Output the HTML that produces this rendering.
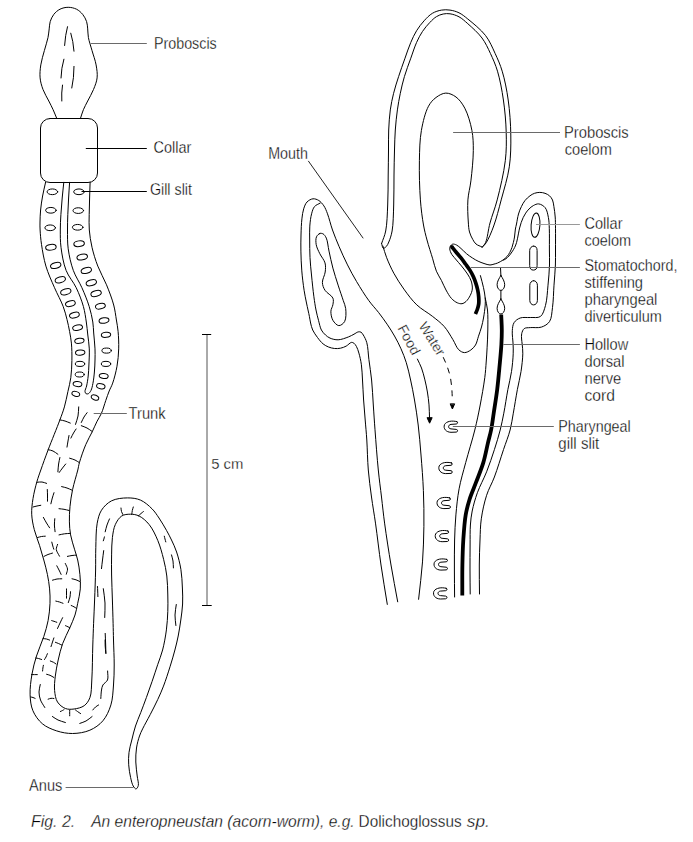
<!DOCTYPE html>
<html><head><meta charset="utf-8"><style>
html,body{margin:0;padding:0;background:#fff;}
svg{display:block;}
text{font-family:"Liberation Sans",sans-serif;fill:#000;stroke:#fff;stroke-width:0.3px;}
</style></head><body>
<svg width="693" height="842" viewBox="0 0 693 842">
<g fill="none" stroke="#000" stroke-width="1" stroke-linecap="round" stroke-linejoin="round">
<path d="M56.70,118.30C55.50,115.43 54.40,112.55 53.10,109.70C51.77,106.79 50.35,104.10 48.80,101.00C47.02,97.43 44.46,93.42 43.00,89.50C41.59,85.72 40.48,81.91 40.10,77.90C39.70,73.72 40.14,69.31 40.80,64.90C41.51,60.19 43.17,55.17 44.40,50.50C45.57,46.05 47.19,41.41 48.00,37.50C48.65,34.36 48.82,31.65 49.20,28.90C49.55,26.37 49.47,23.97 50.20,21.60C50.96,19.13 52.17,16.46 53.80,14.40C55.43,12.33 57.63,10.38 60.00,9.20C62.42,7.99 65.46,7.30 68.20,7.30C70.96,7.30 74.06,7.99 76.50,9.20C78.88,10.38 81.02,12.34 82.70,14.40C84.39,16.47 85.77,19.12 86.60,21.60C87.39,23.96 87.41,26.36 87.70,28.90C88.02,31.64 87.84,34.37 88.40,37.50C89.10,41.42 90.75,46.06 92.00,50.50C93.31,55.18 95.26,60.18 96.10,64.90C96.89,69.30 97.57,73.73 97.10,77.90C96.65,81.92 95.03,85.70 93.50,89.50C91.92,93.41 89.48,97.43 87.70,101.00C86.15,104.10 84.61,106.77 83.40,109.70C82.23,112.54 81.47,115.43 80.50,118.30"/>
<path d="M67.5,26.7Q65.3,35 64.6,45.5"/>
<path d="M70.8,33.2Q73.2,41 74,51.2"/>
<path d="M63.9,59.2Q61.3,68 61,78"/>
<path d="M74,66.4Q74,78 71.8,88"/>
<path d="M62.5,85.1Q61.3,93 61.8,101"/>
<rect x="40.5" y="118.5" width="57" height="64" rx="9.5"/>
<path d="M45.60,182.30C44.60,186.87 43.43,191.39 42.60,196.00C41.76,200.63 41.03,205.50 40.60,210.00C40.20,214.14 40.07,218.40 40.00,222.00C39.95,224.94 39.93,226.95 40.10,230.00C40.32,234.10 40.71,239.13 41.50,244.40C42.47,250.92 43.78,258.97 45.90,266.10C48.08,273.41 51.53,280.79 54.50,287.70C57.31,294.22 61.04,300.74 63.20,306.50C64.95,311.16 65.92,315.23 67.00,319.50C68.03,323.56 68.86,327.52 69.60,331.50C70.32,335.39 71.01,338.83 71.40,343.10C71.87,348.28 72.00,354.64 71.90,360.40C71.80,366.17 71.53,372.27 70.80,377.70C70.13,382.61 68.94,386.86 67.90,391.60C66.81,396.58 65.79,402.04 64.40,406.90C63.10,411.45 61.82,414.70 59.90,419.90C56.97,427.83 51.61,440.70 48.20,449.70C45.40,457.10 42.84,464.15 40.80,470.00C39.26,474.42 38.11,477.41 36.90,481.70C35.47,486.79 33.87,493.05 33.00,498.60C32.18,503.87 31.48,509.02 31.70,514.20C31.92,519.39 33.02,524.57 34.30,529.70C35.61,534.94 37.89,540.16 39.50,545.30C41.05,550.26 42.47,555.11 43.80,560.00C45.10,564.81 46.43,569.57 47.40,574.40C48.36,579.20 49.17,584.06 49.60,588.90C50.03,593.70 50.20,598.29 50.00,603.30C49.78,608.81 49.16,614.99 48.10,620.60C47.07,626.05 45.58,630.97 43.80,636.50C41.80,642.71 38.50,649.57 36.50,656.00C34.61,662.07 33.06,667.74 32.00,674.00C30.87,680.64 29.83,688.35 30.10,694.80C30.34,700.47 30.86,705.88 32.90,710.70C34.93,715.51 38.34,720.33 42.30,723.70C46.27,727.07 51.65,729.27 56.70,730.90C61.75,732.53 67.19,733.57 72.60,733.50C78.25,733.43 84.76,732.42 89.90,730.20C94.80,728.08 99.44,724.86 102.90,720.80C106.54,716.53 109.13,710.66 110.90,704.90C112.78,698.78 112.95,691.65 113.50,685.00C114.05,678.35 114.18,672.04 114.20,665.00C114.23,657.13 113.69,647.50 113.50,640.00C113.34,633.87 113.26,629.33 113.10,623.30C112.91,616.18 112.65,607.90 112.40,600.00C112.15,591.81 111.73,582.88 111.60,575.00C111.49,567.94 111.45,561.35 111.60,554.90C111.74,548.92 111.69,542.93 112.40,537.60C113.02,532.93 113.59,528.33 115.30,524.60C116.83,521.25 119.02,517.71 121.70,516.00C124.14,514.44 127.50,514.20 130.40,514.20C133.30,514.20 136.27,514.61 139.10,516.00C142.56,517.69 146.25,520.96 149.20,524.60C152.64,528.85 155.43,534.85 157.80,540.50C160.27,546.39 162.07,553.18 163.60,559.30C165.02,564.99 166.10,570.23 166.80,576.00C167.54,582.10 167.64,588.90 167.80,595.00C167.95,600.67 168.01,605.77 167.80,611.40C167.57,617.39 167.23,623.63 166.40,629.90C165.53,636.48 164.19,643.92 162.60,650.00C161.24,655.22 159.47,659.32 157.80,664.30C155.98,669.74 154.03,675.79 152.10,681.40C150.22,686.86 148.32,692.22 146.40,697.50C144.52,702.65 142.57,707.81 140.70,712.70C138.94,717.29 136.98,721.47 135.50,726.00C134.01,730.57 132.91,735.47 131.80,740.00C130.76,744.25 129.51,748.24 129.00,752.40C128.49,756.51 128.44,760.65 128.70,764.80C128.96,769.02 129.74,773.72 130.60,777.50C131.31,780.65 132.03,783.98 133.20,786.00C133.99,787.37 135.15,789.07 136.00,789.00C136.86,788.93 137.94,787.04 138.30,785.50C138.85,783.18 137.57,779.47 137.20,776.00C136.75,771.79 135.92,766.67 135.80,762.00C135.68,757.34 135.84,752.46 136.50,748.00C137.12,743.81 138.33,739.44 139.50,736.00C140.43,733.28 141.27,731.65 142.60,728.90C144.52,724.93 147.70,719.46 150.20,714.60C152.76,709.63 155.51,704.33 157.80,699.40C159.91,694.85 161.62,691.02 163.50,686.10C165.76,680.17 168.22,672.51 170.20,666.20C171.97,660.54 173.53,655.22 174.90,650.00C176.17,645.18 177.24,640.84 178.20,636.00C179.22,630.86 180.07,625.34 180.80,620.00C181.53,614.68 182.33,609.34 182.60,604.00C182.87,598.67 182.66,593.53 182.40,588.00C182.12,582.03 181.89,575.46 180.90,569.40C179.93,563.46 178.34,557.20 176.60,552.00C175.12,547.56 173.27,543.74 171.50,540.00C169.89,536.59 168.40,533.77 166.50,530.40C164.31,526.50 161.56,521.76 159.00,518.00C156.71,514.64 154.85,511.64 152.00,508.80C148.81,505.62 144.69,501.91 140.50,500.10C136.49,498.37 132.05,497.87 127.50,497.90C122.46,497.93 116.04,498.57 111.60,500.80C107.50,502.86 103.90,506.46 101.50,510.20C99.11,513.93 98.17,518.11 97.20,523.20C95.90,530.01 96.06,539.72 95.80,547.70C95.55,555.31 95.77,562.02 95.60,570.00C95.40,579.26 94.96,590.63 94.60,600.00C94.29,608.26 93.90,615.67 93.60,623.30C93.31,630.66 93.06,636.91 92.80,645.00C92.46,655.28 92.46,670.31 91.80,680.00C91.33,686.91 91.64,693.13 89.90,697.70C88.61,701.10 86.76,703.82 84.20,705.70C81.54,707.65 77.38,708.57 74.10,709.00C71.13,709.39 68.07,709.55 65.40,708.50C62.50,707.37 59.30,704.84 57.50,702.00C55.56,698.94 55.01,694.58 54.60,690.50C54.15,686.00 54.74,681.02 55.30,676.10C55.90,670.86 57.00,665.36 58.20,660.00C59.42,654.56 60.69,649.02 62.60,643.70C64.54,638.29 67.64,632.83 69.80,627.80C71.72,623.32 73.66,619.22 75.00,615.00C76.25,611.06 76.85,607.41 77.70,603.30C78.63,598.76 79.93,593.73 80.30,588.90C80.66,584.09 80.33,579.21 79.90,574.40C79.47,569.58 78.69,564.42 77.70,560.00C76.83,556.11 75.60,553.06 74.50,549.20C73.24,544.77 71.45,539.59 70.60,534.90C69.80,530.50 69.52,526.43 69.40,521.90C69.27,516.96 69.49,511.66 70.00,506.40C70.53,500.87 71.38,495.30 72.60,489.50C73.92,483.20 76.60,474.94 77.80,470.00C78.53,466.99 78.56,465.65 79.40,462.70C80.75,457.96 83.47,449.98 85.80,444.50C87.82,439.76 90.33,435.68 92.30,431.60C94.06,427.96 95.49,424.39 97.10,421.20C98.52,418.39 100.08,416.40 101.40,413.40C103.04,409.68 104.41,404.38 105.80,400.40C106.99,397.01 108.00,393.98 109.20,391.00C110.31,388.23 111.60,386.28 112.70,383.10C114.26,378.58 116.00,371.90 117.00,366.20C118.00,360.50 118.52,354.68 118.70,348.90C118.88,343.11 118.57,336.69 118.10,331.50C117.71,327.26 117.07,324.08 116.40,320.00C115.63,315.33 115.11,310.31 113.70,305.00C112.02,298.70 109.18,291.34 106.50,284.80C103.87,278.38 100.23,272.43 97.80,266.10C95.42,259.92 93.43,253.49 92.00,247.30C90.65,241.46 89.75,235.62 89.30,230.00C88.87,224.73 89.15,219.83 89.20,214.60C89.25,209.17 89.45,203.46 89.60,198.00C89.75,192.69 89.93,187.53 90.10,182.30"/>
<path d="M63.80,182.30C63.27,187.53 62.68,192.69 62.20,198.00C61.71,203.45 61.22,209.17 60.90,214.60C60.59,219.83 60.30,224.72 60.30,230.00C60.30,235.60 60.20,241.15 61.00,247.30C61.93,254.48 63.38,263.45 66.10,270.40C68.60,276.80 73.32,281.69 76.20,287.70C79.09,293.72 81.69,300.46 83.40,306.50C84.91,311.84 85.55,317.05 86.30,322.00C86.98,326.51 87.31,330.59 87.80,335.00C88.31,339.55 89.10,344.09 89.30,348.90C89.51,354.06 89.11,360.14 88.90,365.00C88.72,369.02 88.60,372.43 88.20,376.00C87.82,379.42 87.23,383.18 86.60,386.00C86.12,388.12 84.86,390.08 85.00,391.50C85.09,392.45 85.59,393.46 86.20,393.80C86.78,394.12 87.79,393.98 88.50,393.60C89.44,393.09 90.32,391.75 91.00,390.40C91.90,388.60 92.37,386.11 92.90,383.50C93.57,380.17 94.05,375.88 94.40,372.00C94.76,368.05 94.90,363.92 95.00,360.00C95.09,356.23 95.16,352.93 95.00,348.90C94.80,344.07 94.09,337.81 93.70,333.00C93.37,329.00 93.42,325.96 92.80,322.00C92.06,317.25 90.85,311.85 89.20,306.50C87.34,300.47 84.58,293.78 81.90,287.70C79.27,281.75 75.55,276.63 73.30,270.40C70.89,263.73 69.15,255.80 68.20,248.80C67.33,242.36 67.55,235.96 67.50,230.00C67.45,224.61 67.62,219.83 67.80,214.60C67.98,209.17 68.29,203.46 68.60,198.00C68.90,192.69 69.27,187.53 69.60,182.30"/>
<ellipse cx="52.4" cy="191.8" rx="5.3" ry="2.85" transform="rotate(0 52.4 191.8)"/>
<ellipse cx="50.9" cy="210.3" rx="5.3" ry="2.85" transform="rotate(0 50.9 210.3)"/>
<ellipse cx="50.2" cy="227.8" rx="5.3" ry="2.85" transform="rotate(0 50.2 227.8)"/>
<ellipse cx="50.9" cy="247.3" rx="5.3" ry="2.85" transform="rotate(-8 50.9 247.3)"/>
<ellipse cx="55.7" cy="265.4" rx="5.3" ry="2.85" transform="rotate(-15 55.7 265.4)"/>
<ellipse cx="60.3" cy="279.8" rx="5.3" ry="2.85" transform="rotate(-17 60.3 279.8)"/>
<ellipse cx="65.8" cy="291.8" rx="5.3" ry="2.85" transform="rotate(-17 65.8 291.8)"/>
<ellipse cx="70.4" cy="303.6" rx="5.0" ry="2.7" transform="rotate(-15 70.4 303.6)"/>
<ellipse cx="74.4" cy="315.1" rx="5.0" ry="2.7" transform="rotate(-15 74.4 315.1)"/>
<ellipse cx="77.6" cy="327.6" rx="5.0" ry="2.7" transform="rotate(-12 77.6 327.6)"/>
<ellipse cx="79.4" cy="340.8" rx="4.7" ry="2.55" transform="rotate(-8 79.4 340.8)"/>
<ellipse cx="80.2" cy="352.6" rx="4.7" ry="2.55" transform="rotate(-4 80.2 352.6)"/>
<ellipse cx="80.0" cy="363.9" rx="4.7" ry="2.55" transform="rotate(0 80.0 363.9)"/>
<ellipse cx="79.7" cy="374.5" rx="4.5" ry="2.5" transform="rotate(0 79.7 374.5)"/>
<ellipse cx="77.5" cy="384.1" rx="4.4" ry="2.5" transform="rotate(6 77.5 384.1)"/>
<ellipse cx="75.8" cy="393.9" rx="4.0" ry="2.4" transform="rotate(18 75.8 393.9)"/>
<ellipse cx="79.0" cy="191.8" rx="5.3" ry="2.85" transform="rotate(0 79.0 191.8)"/>
<ellipse cx="78.3" cy="210.6" rx="5.3" ry="2.85" transform="rotate(0 78.3 210.6)"/>
<ellipse cx="77.7" cy="227.3" rx="5.3" ry="2.85" transform="rotate(0 77.7 227.3)"/>
<ellipse cx="79.1" cy="243.7" rx="5.3" ry="2.85" transform="rotate(-8 79.1 243.7)"/>
<ellipse cx="82.2" cy="257" rx="5.3" ry="2.85" transform="rotate(-12 82.2 257)"/>
<ellipse cx="86.3" cy="270.4" rx="5.3" ry="2.85" transform="rotate(-15 86.3 270.4)"/>
<ellipse cx="91.3" cy="282.7" rx="5.3" ry="2.85" transform="rotate(-15 91.3 282.7)"/>
<ellipse cx="96.1" cy="293.5" rx="5.3" ry="2.85" transform="rotate(-14 96.1 293.5)"/>
<ellipse cx="100.4" cy="306.2" rx="5.0" ry="2.7" transform="rotate(-12 100.4 306.2)"/>
<ellipse cx="104.0" cy="320.5" rx="5.0" ry="2.7" transform="rotate(-10 104.0 320.5)"/>
<ellipse cx="106" cy="334.8" rx="4.7" ry="2.55" transform="rotate(-6 106 334.8)"/>
<ellipse cx="106.6" cy="350.6" rx="4.7" ry="2.55" transform="rotate(0 106.6 350.6)"/>
<ellipse cx="106" cy="363.9" rx="4.7" ry="2.55" transform="rotate(0 106 363.9)"/>
<ellipse cx="103.7" cy="376" rx="4.5" ry="2.5" transform="rotate(6 103.7 376)"/>
<ellipse cx="100.8" cy="386.3" rx="4.3" ry="2.5" transform="rotate(12 100.8 386.3)"/>
<ellipse cx="95" cy="397.5" rx="3.9" ry="2.4" transform="rotate(22 95 397.5)"/>
<path d="M59.90,419.90C61.60,420.27 63.30,420.49 65.00,421.00C66.77,421.54 68.53,422.40 70.30,423.10"/>
<path d="M81.30,425.70C83.20,426.47 85.18,427.03 87.00,428.00C88.85,428.99 90.53,430.40 92.30,431.60"/>
<path d="M48.20,449.70C49.80,450.13 51.45,450.29 53.00,451.00C54.69,451.77 56.27,453.20 57.90,454.30"/>
<path d="M69.60,458.20C71.40,458.80 73.33,459.22 75.00,460.00C76.59,460.74 77.93,461.80 79.40,462.70"/>
<path d="M36.90,482.30C38.60,482.20 40.36,481.81 42.00,482.00C43.59,482.19 45.07,482.93 46.60,483.40"/>
<path d="M61.60,486.60C63.40,487.07 65.27,487.41 67.00,488.00C68.70,488.58 70.27,489.40 71.90,490.10"/>
<path d="M33.00,507.00C34.33,506.67 35.68,506.29 37.00,506.00C38.28,505.72 39.53,505.53 40.80,505.30"/>
<path d="M59.00,508.70C60.67,508.90 62.33,509.00 64.00,509.30C65.70,509.60 67.40,510.10 69.10,510.50"/>
<path d="M37.50,537.50C38.83,537.17 40.17,536.72 41.50,536.50C42.77,536.29 44.03,536.30 45.30,536.20"/>
<path d="M59.00,534.90C60.83,534.53 62.66,534.05 64.50,533.80C66.33,533.55 68.17,533.53 70.00,533.40"/>
<path d="M44.00,556.40C45.33,555.77 46.61,555.04 48.00,554.50C49.44,553.94 51.00,553.57 52.50,553.10"/>
<path d="M67.40,556.40C68.93,556.10 70.47,555.72 72.00,555.50C73.50,555.29 75.00,555.23 76.50,555.10"/>
<path d="M52.50,580.20C54.00,579.80 55.46,579.23 57.00,579.00C58.56,578.76 60.20,578.87 61.80,578.80"/>
<path d="M72.00,578.80C73.33,579.13 74.70,579.34 76.00,579.80C77.33,580.27 78.60,581.00 79.90,581.60"/>
<path d="M55.80,601.10C57.03,601.40 58.29,601.63 59.50,602.00C60.69,602.37 61.83,602.87 63.00,603.30"/>
<path d="M71.20,605.50C72.13,605.93 73.13,606.32 74.00,606.80C74.82,607.26 75.53,607.80 76.30,608.30"/>
<path d="M51.70,620.60C52.47,620.83 53.20,621.04 54.00,621.30C54.89,621.59 55.87,621.97 56.80,622.30"/>
<path d="M65.50,625.70C66.33,626.07 67.24,626.42 68.00,626.80C68.66,627.13 69.20,627.47 69.80,627.80"/>
<path d="M43.10,638.60C44.23,638.73 45.41,638.75 46.50,639.00C47.57,639.25 48.57,639.73 49.60,640.10"/>
<path d="M55.40,642.30C56.43,642.70 57.46,643.05 58.50,643.50C59.59,643.98 60.70,644.57 61.80,645.10"/>
<path d="M35.80,658.00C36.70,658.17 37.58,658.27 38.50,658.50C39.51,658.75 40.57,659.17 41.60,659.50"/>
<path d="M50.30,661.00C51.37,661.43 52.52,661.78 53.50,662.30C54.41,662.79 55.17,663.43 56.00,664.00"/>
<path d="M31.50,674.60C32.50,674.60 33.52,674.60 34.50,674.60C35.45,674.60 36.37,674.60 37.30,674.60"/>
<path d="M46.60,674.30C47.73,674.63 48.86,674.82 50.00,675.30C51.29,675.84 52.60,676.77 53.90,677.50"/>
<path d="M30.80,697.00C31.53,697.17 32.29,697.27 33.00,697.50C33.72,697.73 34.40,698.10 35.10,698.40"/>
<path d="M48.10,699.20C49.07,698.90 50.02,698.41 51.00,698.30C51.96,698.19 52.93,698.43 53.90,698.50"/>
<path d="M78.70,406.90C78.47,409.93 78.54,413.06 78.00,416.00C77.47,418.89 76.33,421.60 75.50,424.40"/>
<path d="M87.10,412.70C86.07,414.13 84.94,415.44 84.00,417.00C82.99,418.68 82.20,420.67 81.30,422.50"/>
<path d="M76.10,429.00C75.23,430.33 74.33,431.56 73.50,433.00C72.59,434.57 71.77,436.40 70.90,438.10"/>
<path d="M69.00,435.50C68.67,437.33 68.33,439.12 68.00,441.00C67.66,442.98 67.33,445.07 67.00,447.10"/>
<path d="M59.90,457.50C59.47,459.67 58.93,461.73 58.60,464.00C58.24,466.47 58.13,469.20 57.90,471.80"/>
<path d="M65.70,464.00C64.63,465.33 63.56,466.62 62.50,468.00C61.39,469.44 60.30,471.00 59.20,472.50"/>
<path d="M47.30,489.50C47.37,491.33 47.47,493.11 47.50,495.00C47.54,497.00 47.50,499.13 47.50,501.20"/>
<path d="M54.00,492.70C53.43,494.47 52.81,496.18 52.30,498.00C51.77,499.88 51.37,501.87 50.90,503.80"/>
<path d="M43.40,517.40C44.43,519.27 45.44,521.22 46.50,523.00C47.51,524.68 48.57,526.20 49.60,527.80"/>
<path d="M54.80,518.70C54.67,520.80 54.36,522.87 54.40,525.00C54.44,527.20 54.87,529.47 55.10,531.70"/>
<path d="M51.80,542.10C52.13,543.40 52.45,544.77 52.80,546.00C53.12,547.12 53.47,548.13 53.80,549.20"/>
<path d="M57.60,544.40C57.17,546.10 56.12,547.72 56.30,549.50C56.51,551.62 58.43,553.97 59.50,556.20"/>
<path d="M56.80,565.80C57.53,567.20 58.29,568.58 59.00,570.00C59.72,571.44 60.40,572.93 61.10,574.40"/>
<path d="M65.30,563.50C66.03,565.33 67.36,567.17 67.50,569.00C67.63,570.74 66.70,572.47 66.30,574.20"/>
<path d="M66.50,588.90C66.50,590.27 66.50,591.55 66.50,593.00C66.50,594.63 66.50,596.47 66.50,598.20"/>
<path d="M70.50,591.70C70.33,593.47 70.35,595.23 70.00,597.00C69.63,598.86 68.87,600.73 68.30,602.60"/>
<path d="M62.60,617.70C61.90,619.13 61.25,620.41 60.50,622.00C59.58,623.94 58.50,626.33 57.50,628.50"/>
<path d="M53.90,637.90C53.43,639.27 52.97,640.59 52.50,642.00C52.00,643.49 51.50,645.07 51.00,646.60"/>
<path d="M47.40,653.70C46.93,654.80 46.51,655.99 46.00,657.00C45.54,657.91 45.00,658.67 44.50,659.50"/>
<path d="M40.30,684.50C39.87,687.00 38.98,689.46 39.00,692.00C39.02,694.63 39.56,697.45 40.50,700.00C41.47,702.63 43.37,705.00 44.80,707.50"/>
<path d="M43.40,665.30C43.23,666.20 43.03,667.07 42.90,668.00C42.76,668.97 42.70,670.00 42.60,671.00"/>
<path d="M52.40,716.50C54.27,717.67 55.94,719.03 58.00,720.00C60.24,721.06 62.93,721.67 65.40,722.50"/>
<path d="M79.80,723.40C81.87,722.60 84.01,722.09 86.00,721.00C88.12,719.83 90.07,718.00 92.10,716.50"/>
<path d="M92.80,710.00C93.70,709.00 94.51,707.85 95.50,707.00C96.45,706.19 97.57,705.67 98.60,705.00"/>
<path d="M100.80,698.50C101.03,695.67 101.06,692.44 101.50,690.00C101.84,688.09 102.03,686.57 102.90,685.00C103.90,683.21 106.67,682.10 107.50,680.00C108.46,677.58 107.57,674.00 107.60,671.00"/>
<path d="M105.10,640.00C105.13,642.00 105.09,643.92 105.20,646.00C105.31,648.25 105.60,650.67 105.80,653.00"/>
<path d="M60.40,711.50C61.10,711.17 61.87,710.84 62.50,710.50C63.05,710.21 63.50,709.90 64.00,709.60"/>
<path d="M69.70,710.00C69.70,711.00 69.70,712.02 69.70,713.00C69.70,713.95 69.70,714.87 69.70,715.80"/>
<path d="M75.50,710.00C76.17,710.50 76.75,710.97 77.50,711.50C78.41,712.15 79.57,712.90 80.60,713.60"/>
<path d="M121.00,508.00C121.17,509.17 121.17,510.40 121.50,511.50C121.82,512.56 122.43,513.50 122.90,514.50"/>
<path d="M133.30,507.00C132.97,508.17 132.55,509.28 132.30,510.50C132.04,511.78 131.97,513.17 131.80,514.50"/>
<path d="M143.40,511.60C142.60,512.23 141.81,512.81 141.00,513.50C140.11,514.26 139.20,515.17 138.30,516.00"/>
<path d="M109.50,518.90C108.67,520.93 107.71,522.89 107.00,525.00C106.27,527.18 105.80,529.53 105.20,531.80"/>
<path d="M104.40,536.90C104.23,537.60 104.09,538.33 103.90,539.00C103.72,539.63 103.50,540.20 103.30,540.80"/>
<path d="M103.70,550.60C103.30,553.73 102.87,556.94 102.50,560.00C102.14,562.93 101.83,565.73 101.50,568.60"/>
<path d="M164.30,536.20C164.53,537.13 164.75,538.06 165.00,539.00C165.25,539.96 165.53,540.93 165.80,541.90"/>
<path d="M171.50,554.90C172.00,556.93 172.68,558.89 173.00,561.00C173.33,563.21 173.27,565.60 173.40,567.90"/>
<path d="M97.50,586.50C97.57,588.00 97.64,589.42 97.70,591.00C97.77,592.76 97.83,594.73 97.90,596.60"/>
<path d="M103.30,588.70C103.87,593.47 104.77,598.21 105.00,603.00C105.23,607.81 104.80,612.67 104.70,617.50"/>
<path d="M105.20,633.40C105.33,636.60 105.49,639.72 105.60,643.00C105.72,646.45 105.80,650.07 105.90,653.60"/>
<path d="M176.30,604.50C175.87,608.00 175.07,611.50 175.00,615.00C174.93,618.50 175.60,622.00 175.90,625.50"/>
<path d="M90.6,43.5L146.8,43.5" stroke="#6a6a6a" stroke-linecap="butt"/>
<path d="M85.8,148.5L146.8,148.5" stroke-linecap="butt"/>
<path d="M81.5,191.5L146.8,191.5" stroke-linecap="butt"/>
<path d="M93.7,413.5L126.8,413.5" stroke="#6a6a6a" stroke-linecap="butt"/>
<path d="M65.6,787.5L133.2,787.5" stroke="#6a6a6a" stroke-linecap="butt"/>
<path d="M207,334.5L207,605.2" stroke="#555" stroke-linecap="butt"/>
<path d="M202.0,334.5L211.2,334.5" stroke-linecap="butt"/>
<path d="M202.0,605.5L211.7,605.5" stroke-linecap="butt"/>
<path d="M381.60,243.50C382.97,239.33 384.70,235.99 385.70,231.00C387.10,223.97 387.28,213.98 387.70,205.00C388.15,195.36 388.06,184.54 388.20,175.00C388.32,166.29 388.41,157.87 388.50,150.00C388.58,142.96 388.40,136.67 388.70,130.00C389.00,123.30 389.42,116.26 390.30,109.90C391.11,104.08 392.23,98.81 393.60,93.30C394.99,87.71 396.76,82.28 398.60,76.60C400.54,70.59 402.89,64.09 405.00,58.20C406.96,52.72 408.73,47.22 410.80,42.40C412.63,38.15 414.35,34.34 416.60,30.70C418.80,27.15 421.39,23.76 424.10,20.80C426.67,17.99 429.37,15.10 432.40,13.30C435.21,11.63 438.47,10.62 441.50,10.10C444.34,9.62 447.16,9.68 450.00,10.10C452.99,10.54 456.13,11.40 459.00,12.80C462.08,14.30 464.46,16.29 467.80,19.00C472.82,23.08 480.95,29.55 485.60,35.60C489.83,41.11 492.31,47.39 495.10,53.40C497.82,59.26 500.17,64.46 502.20,71.20C504.72,79.56 506.78,89.88 508.20,100.00C509.75,111.05 510.65,123.61 510.80,135.00C510.95,145.85 510.84,156.17 509.30,166.80C507.71,177.80 503.95,189.55 501.20,199.90C498.74,209.14 496.50,218.35 493.70,226.00C491.40,232.28 488.57,239.03 486.20,242.70C484.86,244.78 483.60,245.63 482.30,247.10"/>
<path d="M381.60,243.50C382.17,245.10 382.38,247.97 383.30,248.30C384.06,248.57 385.44,247.39 386.30,246.50C387.34,245.42 388.01,243.88 388.80,242.00C389.99,239.19 391.30,235.50 392.10,231.00C393.31,224.22 393.38,213.98 393.70,205.00C394.04,195.36 393.86,184.54 394.00,175.00C394.13,166.29 394.26,157.87 394.50,150.00C394.71,142.96 394.82,136.67 395.30,130.00C395.78,123.30 396.51,116.27 397.40,109.90C398.21,104.09 399.14,98.82 400.30,93.30C401.47,87.72 402.72,82.26 404.40,76.60C406.18,70.57 408.69,64.09 410.80,58.20C412.76,52.72 414.49,47.10 416.60,42.40C418.40,38.39 420.16,34.96 422.40,31.60C424.60,28.30 427.37,25.03 429.90,22.40C432.08,20.14 434.16,18.02 436.50,16.60C438.62,15.31 440.92,14.46 443.20,14.00C445.42,13.55 447.61,13.45 450.00,13.80C452.82,14.22 456.14,15.26 459.00,16.80C462.10,18.47 464.61,20.87 467.80,23.70C472.08,27.50 478.16,32.85 482.00,38.00C485.58,42.80 487.86,48.00 490.40,53.40C493.05,59.04 495.48,64.45 497.50,71.20C500.00,79.55 501.96,90.10 503.40,100.00C504.91,110.34 505.91,121.62 506.20,132.00C506.47,141.82 506.51,150.45 505.30,160.70C503.87,172.81 500.12,188.61 497.20,199.90C494.93,208.68 491.99,215.59 490.00,223.00C488.19,229.74 487.46,238.36 485.60,242.50C484.61,244.70 483.40,245.57 482.30,247.10"/>
<path d="M482.30,247.10C480.20,246.07 477.62,245.38 476.00,244.00C474.56,242.77 473.79,241.25 472.80,239.50C471.59,237.37 470.25,234.74 469.50,232.00C468.67,228.96 468.58,225.99 468.30,222.00C467.89,216.08 467.41,206.97 467.90,199.90C468.36,193.31 470.06,187.99 470.90,180.90C471.95,171.99 473.26,159.68 473.30,150.60C473.34,143.19 473.21,137.21 471.90,130.40C470.50,123.09 467.94,114.13 464.80,108.20C462.34,103.57 459.44,99.53 456.00,97.00C452.99,94.78 449.15,93.00 445.80,93.10C442.48,93.19 438.85,95.38 436.00,97.50C433.05,99.70 430.64,102.27 428.50,106.20C425.33,112.02 422.93,121.79 421.40,130.40C419.72,139.85 419.62,149.95 419.40,160.70C419.15,172.92 419.54,188.30 420.40,199.90C421.09,209.21 422.21,217.73 423.50,225.00C424.51,230.67 425.59,234.74 427.00,240.00C428.59,245.94 431.01,253.18 432.70,258.80C434.07,263.36 434.84,267.45 436.40,271.20C437.80,274.58 439.81,277.28 441.40,280.40C443.01,283.55 444.29,286.95 446.00,290.00C447.67,292.98 449.42,296.28 451.50,298.50C453.26,300.37 455.37,301.95 457.30,302.80C458.87,303.49 460.54,303.93 462.00,303.70C463.43,303.47 464.77,302.61 466.00,301.50C467.56,300.10 469.14,297.62 470.20,295.50C471.22,293.45 472.10,291.30 472.30,289.00C472.52,286.50 472.01,283.51 471.20,281.00C470.40,278.51 468.99,276.35 467.50,274.00C465.82,271.36 463.54,268.55 461.50,266.00C459.54,263.56 457.32,261.27 455.50,259.00C453.86,256.95 451.94,255.06 451.00,253.00C450.18,251.21 449.43,249.03 449.80,247.50C450.12,246.17 451.37,244.61 452.50,244.20C453.61,243.80 455.20,244.40 456.50,245.00C458.04,245.71 459.46,247.18 461.00,248.50C462.78,250.03 464.57,252.11 466.50,253.70C468.41,255.27 470.50,256.72 472.50,258.00C474.37,259.20 476.17,260.28 478.10,261.20C480.01,262.11 482.00,262.86 484.00,263.50C485.97,264.13 488.20,264.98 490.00,265.00C491.47,265.02 492.71,264.44 494.00,264.10C495.24,263.77 496.31,263.55 497.60,263.00C499.25,262.30 501.38,261.14 503.00,260.00C504.52,258.93 505.94,257.71 507.10,256.40C508.19,255.17 509.00,253.85 509.80,252.40C510.65,250.86 511.40,249.09 512.00,247.40C512.59,245.75 512.99,244.11 513.40,242.40C513.82,240.64 514.19,238.98 514.50,237.00C514.88,234.60 515.01,231.35 515.40,229.00C515.71,227.13 516.09,225.95 516.50,224.00C517.08,221.24 517.61,217.05 518.50,214.00C519.29,211.31 520.28,208.91 521.40,206.60C522.46,204.42 523.55,202.31 525.00,200.50C526.43,198.72 528.30,197.04 530.00,195.80C531.47,194.72 532.89,193.87 534.50,193.30C536.15,192.72 538.04,192.40 539.80,192.40C541.54,192.40 543.37,192.73 545.00,193.30C546.61,193.87 548.25,194.68 549.50,195.80C550.75,196.92 551.78,198.36 552.50,200.00C553.33,201.88 553.49,204.14 553.90,206.60C554.42,209.66 554.93,213.45 555.20,217.00C555.48,220.68 555.44,223.92 555.50,228.30C555.58,234.36 555.52,243.43 555.50,250.00C555.48,255.46 555.60,259.63 555.40,265.00C555.16,271.24 554.47,278.31 554.00,285.20C553.51,292.43 553.41,300.85 552.50,307.40C551.77,312.69 551.76,318.24 549.50,321.60C547.65,324.36 544.47,326.08 541.40,327.10C538.12,328.19 533.44,327.27 530.30,327.60C527.96,327.84 525.64,327.53 524.20,328.60C522.82,329.62 522.13,331.93 521.70,333.70C521.29,335.41 521.52,337.24 521.60,339.00C521.68,340.77 522.02,342.27 522.20,344.30C522.44,347.01 522.87,350.14 522.80,353.80C522.71,358.81 521.89,365.69 521.00,371.60C520.10,377.56 518.59,383.03 517.40,389.40C516.02,396.75 514.61,405.96 513.30,413.20C512.20,419.29 511.61,424.24 510.10,430.00C508.44,436.34 505.87,442.52 503.50,449.60C500.70,457.97 497.49,468.84 494.40,477.00C491.84,483.77 488.73,488.72 486.60,495.30C484.26,502.55 482.39,511.13 481.30,518.80C480.27,526.01 480.33,532.64 480.00,540.00C479.64,547.99 479.39,556.36 479.30,565.00C479.20,574.31 479.43,584.33 479.50,594.00"/>
<path d="M503.60,260.10C504.40,259.63 505.20,259.30 506.00,258.70C506.96,257.99 507.96,257.04 508.90,256.00C509.97,254.82 511.04,253.33 512.00,251.90C512.97,250.46 513.94,248.98 514.70,247.40C515.47,245.81 516.04,244.31 516.60,242.40C517.32,239.96 517.87,236.48 518.40,233.90C518.85,231.76 519.13,229.92 519.60,228.00C520.06,226.12 520.59,224.28 521.20,222.50C521.79,220.78 522.44,219.09 523.20,217.50C523.94,215.96 524.75,214.50 525.70,213.10C526.67,211.67 527.75,210.24 529.00,209.00C530.28,207.73 531.70,206.45 533.30,205.60C534.93,204.74 536.86,203.69 538.70,203.90C540.82,204.14 543.61,205.73 545.20,207.70C547.06,210.00 547.72,214.11 548.40,217.50C549.10,220.97 549.11,224.07 549.30,228.30C549.56,234.28 549.36,243.43 549.40,250.00C549.43,255.46 549.68,259.63 549.50,265.00C549.29,271.24 548.67,278.47 548.00,285.20C547.33,291.94 547.10,299.77 545.50,305.40C544.26,309.76 543.14,314.54 540.40,316.50C537.90,318.28 533.67,317.25 530.30,317.50C526.94,317.75 523.02,316.98 520.20,318.00C517.75,318.89 515.42,320.55 514.10,322.60C512.72,324.74 512.55,327.63 512.30,330.70C511.99,334.63 512.96,340.17 513.10,344.30C513.22,347.75 513.35,350.15 513.20,353.80C512.99,358.81 512.38,365.69 511.50,371.60C510.62,377.56 509.09,383.03 507.90,389.40C506.52,396.75 505.20,405.97 503.80,413.20C502.62,419.30 501.67,424.21 500.20,430.00C498.59,436.31 496.57,442.89 494.40,449.60C492.07,456.80 489.46,464.57 486.60,471.80C483.78,478.93 479.86,485.88 477.40,492.70C475.16,498.92 473.38,505.27 472.20,511.00C471.19,515.94 470.76,519.91 470.40,525.00C469.97,531.06 470.17,537.96 470.10,545.00C470.03,552.87 469.98,561.75 470.00,570.00C470.02,578.08 470.13,586.00 470.20,594.00"/>
<ellipse cx="535.5" cy="225.2" rx="4.4" ry="12.2" transform="rotate(4 535.5 225.2)"/>
<rect x="529.7" y="246.1" width="7.4" height="24" rx="3.7" ry="4.5"/>
<rect x="529.8" y="280.7" width="7.6" height="24.2" rx="3.8" ry="4.5"/>
<path d="M387.30,604.40C385.20,591.27 382.93,578.29 381.00,565.00C379.03,551.46 377.34,536.15 375.60,523.90C374.19,513.98 372.72,505.99 371.50,497.00C370.28,488.02 369.08,479.25 368.30,470.00C367.48,460.28 367.38,448.99 366.80,440.00C366.32,432.66 365.73,426.67 365.20,420.00C364.67,413.33 364.05,406.67 363.60,400.00C363.15,393.34 362.90,386.21 362.50,380.00C362.16,374.58 362.07,369.51 361.40,364.80C360.81,360.62 359.87,356.43 358.90,353.10C358.15,350.53 357.39,348.17 356.40,346.40C355.65,345.07 354.85,343.86 353.90,343.20C353.14,342.67 352.34,342.25 351.40,342.40C349.93,342.63 348.04,345.13 346.20,346.10C344.40,347.05 342.45,347.80 340.50,348.20C338.58,348.59 336.57,348.69 334.60,348.50C332.57,348.31 330.42,347.77 328.50,347.00C326.59,346.23 324.81,345.30 323.10,343.90C321.11,342.27 319.22,339.79 317.50,337.50C315.74,335.16 313.87,332.54 312.70,330.00C311.64,327.70 311.16,325.31 310.60,323.00C310.07,320.78 309.91,318.98 309.40,316.40C308.67,312.71 307.39,307.41 306.50,303.00C305.63,298.72 304.82,294.99 304.10,290.30C303.21,284.53 302.33,277.41 301.80,270.90C301.26,264.34 301.02,257.36 300.90,251.10C300.79,245.46 300.83,240.36 301.00,235.00C301.17,229.63 301.35,223.63 301.90,218.90C302.34,215.13 302.73,211.78 303.70,208.80C304.53,206.25 305.38,203.68 307.00,202.00C308.53,200.41 310.97,199.01 313.00,198.80C314.91,198.60 317.06,199.43 318.80,200.50C320.73,201.68 322.48,203.79 323.90,205.90C325.43,208.18 326.30,210.65 327.50,213.80C329.17,218.20 330.60,224.60 332.50,230.00C334.45,235.54 336.69,240.96 339.10,246.60C341.66,252.58 344.54,258.99 347.50,264.90C350.38,270.64 353.22,275.91 356.60,281.60C360.29,287.82 364.90,295.21 368.90,300.70C372.17,305.18 375.44,308.45 378.50,312.40C381.50,316.28 384.41,320.22 387.10,324.20C389.73,328.09 392.20,331.93 394.50,336.00C396.84,340.13 399.05,344.39 401.00,348.80C402.99,353.29 404.75,357.76 406.30,362.70C407.99,368.10 409.27,374.01 410.60,380.00C412.02,386.41 413.29,392.95 414.50,400.00C415.85,407.85 417.15,416.27 418.20,425.00C419.35,434.53 420.16,444.57 421.00,455.00C421.91,466.35 422.92,478.72 423.40,490.60C423.88,502.49 424.05,514.41 423.90,526.30C423.75,538.18 423.36,549.90 422.50,561.90C421.62,574.23 419.90,586.83 418.60,599.30"/>
<path d="M320.30,203.00C318.37,204.20 315.94,204.89 314.50,206.60C312.97,208.42 312.35,211.03 311.60,213.80C310.65,217.31 310.12,221.86 309.80,226.10C309.46,230.58 309.68,235.09 309.70,240.00C309.73,245.52 309.70,251.76 310.00,257.60C310.30,263.42 310.90,268.88 311.50,275.00C312.17,281.86 313.05,290.45 313.90,296.80C314.57,301.76 315.18,305.89 316.00,310.00C316.73,313.66 317.59,316.93 318.50,320.30C319.39,323.59 320.02,327.40 321.40,330.00C322.50,332.07 324.00,333.62 325.50,335.00C326.88,336.27 328.19,337.32 330.00,338.10C332.23,339.06 335.24,339.89 338.10,339.80C341.36,339.69 345.62,338.00 348.50,336.90C350.67,336.07 352.30,335.08 354.00,334.20C355.50,333.42 356.90,332.16 358.20,331.90C359.19,331.70 360.19,331.76 361.00,332.20C361.92,332.70 362.53,333.77 363.30,335.00C364.47,336.88 365.91,339.56 366.80,342.70C368.06,347.15 368.15,353.62 368.90,359.50C369.73,365.99 370.88,372.82 371.60,380.00C372.39,387.91 372.73,396.68 373.30,405.00C373.87,413.28 374.30,420.54 375.00,429.80C375.89,441.59 377.09,457.94 378.30,470.00C379.29,479.90 380.43,488.01 381.50,497.00C382.57,505.98 383.35,514.00 384.70,523.90C386.37,536.17 388.77,551.69 391.00,565.00C393.12,577.62 395.47,589.53 397.70,601.80"/>
<path d="M319.80,233.50C318.59,233.92 317.15,235.30 316.50,236.80C315.65,238.74 315.75,241.95 316.20,244.60C316.71,247.57 318.37,250.71 319.80,253.70C321.29,256.81 324.13,259.73 325.00,262.90C325.81,265.84 325.57,268.89 325.20,272.00C324.79,275.40 322.30,279.27 322.40,282.50C322.49,285.31 323.49,287.87 325.00,290.30C326.76,293.13 331.75,295.36 332.90,298.10C333.78,300.21 333.23,302.53 332.90,304.70C332.57,306.90 331.00,308.84 330.90,311.20C330.79,313.97 331.47,317.85 332.90,320.30C334.22,322.56 336.79,325.47 338.80,325.60C340.69,325.72 343.37,323.72 344.60,321.60C346.27,318.72 346.10,312.36 345.70,308.60C345.38,305.61 344.28,303.77 343.30,300.70C341.92,296.37 339.80,290.42 338.10,285.10C336.33,279.57 334.42,273.79 332.90,268.10C331.39,262.46 330.16,256.39 329.00,251.10C327.99,246.48 327.69,241.14 326.30,238.10C325.43,236.18 324.34,234.61 323.10,233.90C322.11,233.33 320.82,233.15 319.80,233.50Z"/>
<path d="M382.90,246.00C384.10,249.77 384.94,253.26 386.50,257.30C388.40,262.20 390.97,267.99 393.80,273.20C396.74,278.60 400.16,283.92 403.90,289.10C407.79,294.49 411.95,300.30 416.80,304.90C421.57,309.41 427.89,312.66 432.70,316.50C436.95,319.89 440.94,322.77 444.30,326.60C447.68,330.46 450.37,335.50 452.90,339.60C455.09,343.14 456.39,347.52 458.70,349.70C460.42,351.33 462.51,352.53 464.50,352.60C466.54,352.67 468.97,351.26 470.80,350.00C472.64,348.73 474.26,347.06 475.50,345.00C476.94,342.60 477.51,339.17 478.50,336.20C479.51,333.17 480.66,330.07 481.50,327.00C482.32,324.00 482.92,321.29 483.50,318.00C484.19,314.08 484.96,308.67 485.20,305.00C485.37,302.31 485.41,300.55 485.20,298.00C484.94,294.89 484.25,291.25 483.50,287.70C482.68,283.81 481.43,279.63 480.40,275.60"/>
<path d="M485.20,298.00C485.97,302.00 487.04,305.47 487.50,310.00C488.09,315.80 487.88,323.53 487.80,330.00C487.73,336.11 487.39,342.20 487.10,347.80C486.84,352.80 486.57,357.17 486.20,362.00C485.81,367.06 485.57,371.57 484.80,377.50C483.76,385.58 481.75,396.93 480.00,406.00C478.39,414.36 476.92,421.42 474.80,430.00C472.31,440.07 468.43,452.31 465.70,462.60C463.26,471.79 460.74,480.02 459.10,488.80C457.49,497.46 456.65,506.27 455.90,514.90C455.17,523.34 454.86,531.26 454.60,540.00C454.32,549.55 454.40,560.26 454.40,570.00C454.40,579.24 454.53,588.00 454.60,597.00"/>
<path d="M451.80,246.80C453.20,248.53 454.54,250.23 456.00,252.00C457.54,253.86 459.24,255.73 460.80,257.70C462.41,259.72 463.96,261.88 465.50,264.00C467.03,266.11 468.67,268.25 470.00,270.40C471.25,272.42 472.34,274.39 473.30,276.50C474.27,278.63 475.07,280.86 475.80,283.10C476.54,285.36 477.22,287.68 477.70,290.00C478.18,292.31 478.53,294.66 478.70,297.00C478.87,299.33 478.97,301.82 478.70,304.00C478.45,305.96 477.88,307.78 477.30,309.50C476.76,311.10 476.03,312.50 475.40,314.00" stroke-width="3.7" stroke-linecap="butt"/>
<circle cx="451.9" cy="246.8" r="1.85" fill="#000" stroke="none"/>
<path d="M501.20,314.50C501.40,319.67 501.77,324.94 501.80,330.00C501.83,334.86 501.69,339.06 501.40,344.30C501.04,350.70 500.28,358.31 499.60,365.60C498.88,373.32 498.18,381.48 497.20,389.40C496.22,397.34 494.79,405.96 493.70,413.20C492.78,419.29 492.14,424.77 491.10,430.00C490.17,434.66 489.05,438.30 487.90,443.10C486.49,448.95 485.24,456.15 483.30,462.60C481.32,469.19 478.46,475.91 476.10,482.20C473.90,488.08 471.36,493.59 469.60,499.20C467.94,504.49 466.71,509.01 465.70,514.90C464.44,522.25 463.85,531.63 463.30,540.00C462.75,548.33 462.57,556.25 462.40,565.00C462.21,574.66 462.33,585.33 462.30,595.50" stroke-width="3.8" stroke-linecap="butt"/>
<path d="M500.9,275.4 C499.2,278.4 497.1,281.4 497.1,284.7 C497.1,288.0 499,290.4 500.9,290.4 C502.8,290.4 504.7,288.0 504.7,284.7 C504.7,281.4 502.6,278.4 500.9,275.4Z"/>
<path d="M500.9,299.0 C499.2,302.0 497.1,305.0 497.1,308.3 C497.1,311.6 499,314.0 500.9,314.0 C502.8,314.0 504.7,311.6 504.7,308.3 C504.7,305.0 502.6,302.0 500.9,299.0Z"/>
<path d="M500.5,267.5L500.9,275.4"/>
<path d="M500.9,290.6L500.9,299"/>
<path d="M456.8,421.6 C452,420.40000000000003 446.5,421.1 444.5,424.6 C443,428.6 446,432.20000000000005 451,432.3 L456.3,432.1 C458,431.8 458,429.6 456.3,429.40000000000003 L451,428.90000000000003 C447.8,428.6 447.8,424.8 451,424.40000000000003 L456.3,424.0 C458,423.6 458,421.8 456.8,421.6Z" stroke-width="1.0"/>
<path d="M451.5,462.9 C446.7,461.7 441.2,462.4 439.2,465.9 C437.7,469.9 440.7,473.5 445.7,473.59999999999997 L451.0,473.4 C452.7,473.09999999999997 452.7,470.9 451.0,470.7 L445.7,470.2 C442.5,469.9 442.5,466.09999999999997 445.7,465.7 L451.0,465.29999999999995 C452.7,464.9 452.7,463.09999999999997 451.5,462.9Z" stroke-width="1.0"/>
<path d="M449.7,497.9 C444.9,496.7 439.4,497.4 437.4,500.9 C435.9,504.9 438.9,508.5 443.9,508.59999999999997 L449.2,508.4 C450.9,508.09999999999997 450.9,505.9 449.2,505.7 L443.9,505.2 C440.7,504.9 440.7,501.09999999999997 443.9,500.7 L449.2,500.29999999999995 C450.9,499.9 450.9,498.09999999999997 449.7,497.9Z" stroke-width="1.0"/>
<path d="M447.90000000000003,531 C443.1,529.8 437.6,530.5 435.6,534 C434.1,538 437.1,541.6 442.1,541.7 L447.40000000000003,541.5 C449.1,541.2 449.1,539 447.40000000000003,538.8 L442.1,538.3 C438.90000000000003,538 438.90000000000003,534.2 442.1,533.8 L447.40000000000003,533.4 C449.1,533 449.1,531.2 447.90000000000003,531Z" stroke-width="1.0"/>
<path d="M446.7,559.4 C441.9,558.1999999999999 436.4,558.9 434.4,562.4 C432.9,566.4 435.9,570.0 440.9,570.1 L446.2,569.9 C447.9,569.6 447.9,567.4 446.2,567.1999999999999 L440.9,566.6999999999999 C437.7,566.4 437.7,562.6 440.9,562.1999999999999 L446.2,561.8 C447.9,561.4 447.9,559.6 446.7,559.4Z" stroke-width="1.0"/>
<path d="M446.2,588.3 C441.4,587.0999999999999 435.9,587.8 433.9,591.3 C432.4,595.3 435.4,598.9 440.4,599.0 L445.7,598.8 C447.4,598.5 447.4,596.3 445.7,596.0999999999999 L440.4,595.5999999999999 C437.2,595.3 437.2,591.5 440.4,591.0999999999999 L445.7,590.6999999999999 C447.4,590.3 447.4,588.5 446.2,588.3Z" stroke-width="1.0"/>
<path d="M417.40,359.10C418.77,362.07 420.30,364.77 421.50,368.00C422.85,371.63 423.92,375.90 424.90,379.90C425.88,383.90 426.72,387.89 427.40,392.00C428.10,396.22 428.65,400.62 429.00,404.90C429.34,409.12 429.33,413.30 429.50,417.50"/>
<path d="M427.2,418.0L429.6,423.2L432.0,418.0Z" fill="#000"/>
<path d="M443.20,357.20C444.47,360.13 445.86,362.87 447.00,366.00C448.25,369.43 449.49,373.14 450.30,377.00C451.16,381.12 451.57,386.06 451.90,390.00C452.17,393.27 452.17,396.00 452.30,399.00" stroke-dasharray="5.9,5.6" stroke-linecap="butt"/>
<path d="M450.3,404.2L452.4,409.0L454.5,404.2Z" fill="#000"/>
<path d="M453.1,132.5L560,132.5" stroke="#6a6a6a" stroke-linecap="butt"/>
<path d="M308.5,161.2L363,238" stroke="#222"/>
<path d="M536,224.5L579.9,224.5" stroke="#999" stroke-linecap="butt"/>
<path d="M470.6,267.5L579.9,267.5" stroke="#6a6a6a" stroke-linecap="butt"/>
<path d="M503.3,344.5L579.9,344.5" stroke="#6a6a6a" stroke-linecap="butt"/>
<path d="M452.8,426.5L553.8,426.5" stroke="#6a6a6a" stroke-linecap="butt"/>
</g>
<g>
<text x="154.0" y="48.8" textLength="62.7" lengthAdjust="spacingAndGlyphs" font-size="15.8">Proboscis</text>
<text x="153.6" y="152.9" textLength="37.8" lengthAdjust="spacingAndGlyphs" font-size="15.8">Collar</text>
<text x="149.9" y="194.7" textLength="42.1" lengthAdjust="spacingAndGlyphs" font-size="15.8">Gill slit</text>
<text x="128.6" y="418.6" textLength="37.0" lengthAdjust="spacingAndGlyphs" font-size="15.8">Trunk</text>
<text x="211.2" y="469.1" textLength="32.2" lengthAdjust="spacingAndGlyphs" font-size="14.5">5 cm</text>
<text x="29.1" y="791" textLength="33.3" lengthAdjust="spacingAndGlyphs" font-size="15.8">Anus</text>
<text x="268.2" y="159.2" textLength="39.7" lengthAdjust="spacingAndGlyphs" font-size="15.8">Mouth</text>
<text x="564.0" y="138.2" textLength="64.7" lengthAdjust="spacingAndGlyphs" font-size="15.8">Proboscis</text>
<text x="564.8" y="155" textLength="47.0" lengthAdjust="spacingAndGlyphs" font-size="15.8">coelom</text>
<text x="584.5" y="229.3" textLength="38.0" lengthAdjust="spacingAndGlyphs" font-size="15.8">Collar</text>
<text x="584.5" y="246" textLength="46.7" lengthAdjust="spacingAndGlyphs" font-size="15.8">coelom</text>
<text x="584.5" y="271.2" textLength="92.9" lengthAdjust="spacingAndGlyphs" font-size="15.8">Stomatochord,</text>
<text x="584.5" y="288.2" textLength="58.5" lengthAdjust="spacingAndGlyphs" font-size="15.8">stiffening</text>
<text x="584.5" y="304.9" textLength="72.9" lengthAdjust="spacingAndGlyphs" font-size="15.8">pharyngeal</text>
<text x="584.5" y="321.6" textLength="77.4" lengthAdjust="spacingAndGlyphs" font-size="15.8">diverticulum</text>
<text x="584.5" y="349.9" textLength="43.7" lengthAdjust="spacingAndGlyphs" font-size="15.8">Hollow</text>
<text x="584.5" y="366.6" textLength="40.0" lengthAdjust="spacingAndGlyphs" font-size="15.8">dorsal</text>
<text x="584.5" y="383.5" textLength="36.8" lengthAdjust="spacingAndGlyphs" font-size="15.8">nerve</text>
<text x="584.5" y="400.5" textLength="30.5" lengthAdjust="spacingAndGlyphs" font-size="15.8">cord</text>
<text x="558.3" y="431.7" textLength="72.4" lengthAdjust="spacingAndGlyphs" font-size="15.8">Pharyngeal</text>
<text x="558.3" y="448.5" textLength="41.0" lengthAdjust="spacingAndGlyphs" font-size="15.8">gill slit</text>
<text x="0" y="0" font-size="14" transform="translate(397.3,328.0) rotate(62)">Food</text>
<text x="0" y="0" font-size="14" transform="translate(418.3,325.8) rotate(58)">Water</text>
<text y="827" font-size="16.6"><tspan x="31.0" font-style="italic" textLength="44.2" lengthAdjust="spacingAndGlyphs">Fig. 2.</tspan><tspan x="91.2" font-style="italic" textLength="263.5" lengthAdjust="spacingAndGlyphs">An enteropneustan (acorn-worm), e.g.</tspan><tspan x="358.6" textLength="103" lengthAdjust="spacingAndGlyphs">Dolichoglossus</tspan><tspan x="466.8" font-style="italic" textLength="23" lengthAdjust="spacingAndGlyphs">sp.</tspan></text>
</g>
</svg>
</body></html>
